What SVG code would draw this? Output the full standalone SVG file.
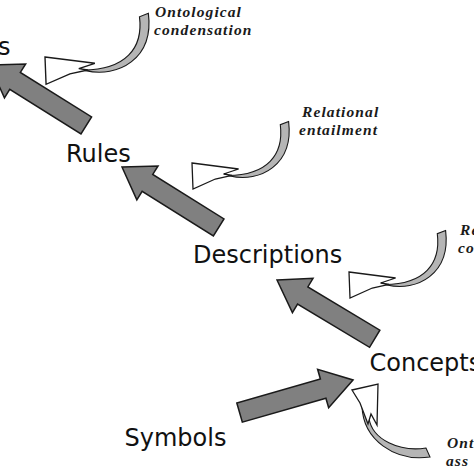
<svg xmlns="http://www.w3.org/2000/svg" xmlns:xlink="http://www.w3.org/1999/xlink" width="474" height="474" viewBox="0 0 474 474">
<style>
.lbl{font-family:"DejaVu Sans",Verdana,sans-serif;font-size:24px;fill:#111}
.ital{font-family:"Liberation Serif","Times New Roman",serif;font-style:italic;font-weight:bold;font-size:15.5px;letter-spacing:1.1px;fill:#1a1a1a}
.big{fill:#808080;stroke:#1a1a1a;stroke-width:1.5;stroke-linejoin:miter}
.head{fill:#fff;stroke:#1a1a1a;stroke-width:1.3;stroke-linejoin:miter}
.rib{fill:#b5b5b5;stroke:#1a1a1a;stroke-width:1.1}
</style>
<defs>
<path id="bigArrow" d="M0,0 L30,-20 L30,-10 L114,-10 L114,10 L30,10 L30,20 Z"/>
<g id="curvedArrow">
<path class="rib" d="M38,13 C68,20 102,2 96.6,-41.6 L88.3,-38.3 C92,-8 75,12 36,12.5 Z"/>
<path class="head" d="M0,0 L46.6,6 L31.6,11 L40,12.4 L23.3,16 L1,26 Z"/>
</g>
</defs>
<rect width="474" height="474" fill="#fff"/>
<g id="connectors">
<use xlink:href="#bigArrow" class="big" transform="translate(-10.4,65) rotate(32)"/>
<use xlink:href="#bigArrow" class="big" transform="translate(122,167) rotate(32)"/>
<use xlink:href="#bigArrow" class="big" transform="translate(277,280) rotate(31)"/>
<use xlink:href="#bigArrow" class="big" transform="translate(353,380) rotate(164) scale(1.035,1)"/>
<use xlink:href="#curvedArrow" transform="translate(45,57) scale(1.07,1.05)"/>
<use xlink:href="#curvedArrow" transform="translate(192,163)"/>
<use xlink:href="#curvedArrow" transform="translate(349,272)"/>
<g id="curvedArrow4">
<path class="rib" d="M362,406 C363,440 395,462 430,457 L426,448 C400,452 372,440 369,418 Z"/>
<path class="head" d="M352,390 L378,384 L377,425 L371,414 L368,424 L360,403 Z"/>
</g>
</g>
<g id="node-top"><text class="lbl" x="-2" y="55">s</text></g>
<g id="node-rules"><text class="lbl" x="66" y="162">Rules</text></g>
<g id="node-descriptions"><text class="lbl" x="193" y="263">Descriptions</text></g>
<g id="node-concepts"><text class="lbl" x="369.5" y="371">Concepts</text></g>
<g id="node-symbols"><text class="lbl" x="124.5" y="446">Symbols</text></g>
<g id="label-ontological-condensation">
<text class="ital" x="155" y="17">Ontological</text>
<text class="ital" x="154" y="35">condensation</text>
</g>
<g id="label-relational-entailment">
<text class="ital" x="302" y="117">Relational</text>
<text class="ital" x="299" y="135">entailment</text>
</g>
<g id="label-relational-co">
<text class="ital" x="460" y="235">Re</text>
<text class="ital" x="458" y="253">co</text>
</g>
<g id="label-ontological-ass">
<text class="ital" x="447" y="448">Ont</text>
<text class="ital" x="446" y="466">ass</text>
</g>
</svg>
